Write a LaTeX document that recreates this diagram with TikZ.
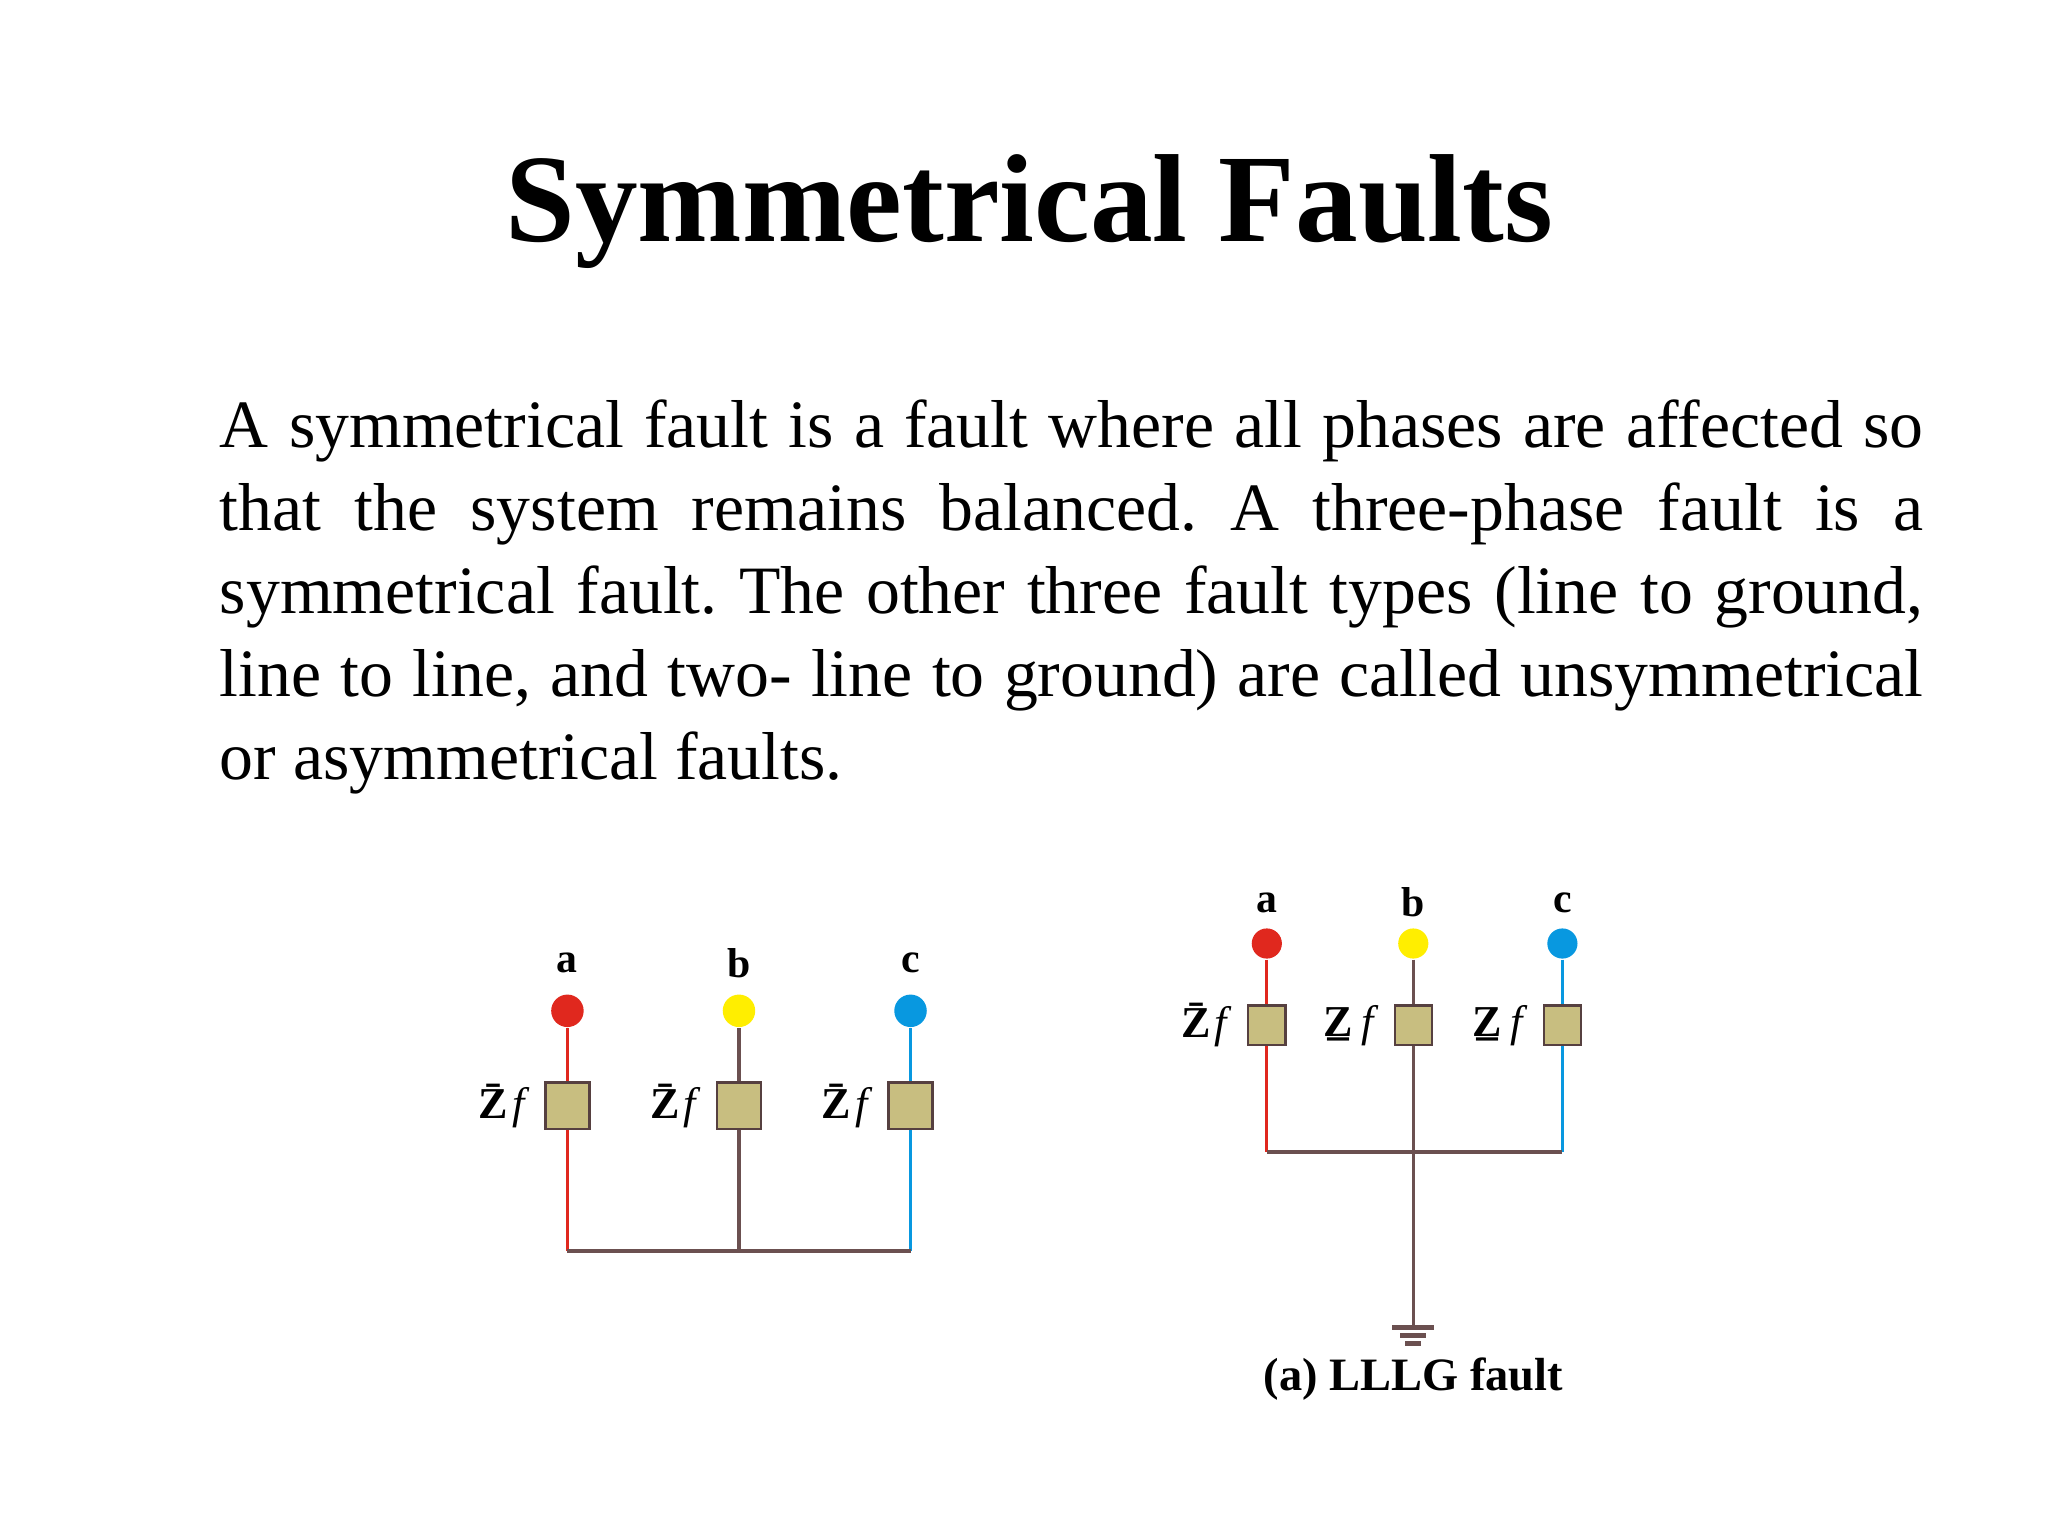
\documentclass[tikz,border=0pt]{standalone}
\usepackage{fontspec}
\setmainfont{Liberation Serif}
\usetikzlibrary{positioning,calc}
\definecolor{phA}{HTML}{E0281E}
\definecolor{phB}{HTML}{FFEE00}
\definecolor{phC}{HTML}{0898E0}
\definecolor{zbox}{HTML}{C8BE80}
\definecolor{wire}{HTML}{6B5050}
\newcommand{\zbar}{\textbf{\=Z}\kern-.6pt\textit{f}}
\newcommand{\zund}{\textbf{\b{Z}}\kern-.6pt\textit{f}}
\begin{document}
\begin{tikzpicture}[x=0.01cm,y=-0.01cm,
    Dot/.style = {circle, inner sep=0pt, minimum size=7pt},
    Imp/.style = {rectangle, draw=wire!80!black, fill=zbox, line width=.5pt,
      inner sep=0pt, minimum width=9.5pt, minimum height=10pt},
    Lbl/.style = {font=\fontsize{9}{10}\selectfont\bfseries},
    Zlbl/.style = {inner sep=0pt, font=\fontsize{9.5}{10}\selectfont},
    Wire/.style = {line width=.7pt}
  ]
  \useasboundingbox (0,0) rectangle (1552,1164);
  % title and text
  \node[font=\fontsize{27}{32}\selectfont\bfseries] (title) at (780,160) {Symmetrical Faults};
  \node[anchor=north west, inner sep=0pt, text width=12.9cm, align=justify,
        font=\fontsize{14.6}{17.9}\selectfont\frenchspacing] (body) at (166,302)
    {\hyphenpenalty=10000\relax A symmetrical fault is a fault where all phases are affected so\linebreak{} that the system remains balanced. A three-phase fault is a\linebreak{} symmetrical fault. The other three fault types (line to ground,\linebreak{} line to line, and two- line to ground) are called unsymmetrical\linebreak{} or asymmetrical faults.\par};
  % left diagram
  \foreach \n/\x/\c in {a/430/phA,b/560/phB,c/690/phC}{
    \node[Lbl] (L\n) at (\x,730) {\n};
    \node[Dot, fill=\c] (D\n) at (\x,766) {};
    \node[Imp] (Z\n) at (\x,838) {};
    \node[Zlbl, left=3pt of Z\n] (T\n) {\zbar};
    \coordinate (B\n) at (\x,948);
  }
  \draw[Wire, phA] (Da) -- (Za) -- (Ba);
  \draw[Wire, wire] (Db) -- (Zb) -- (Bb);
  \draw[Wire, phC] (Dc) -- (Zc) -- (Bc);
  \draw[Wire, wire] (Ba) -- (Bc);
  % right diagram
  \foreach \n/\x/\c in {a/960/phA,b/1071/phB,c/1184/phC}{
    \node[Lbl] (R\n) at (\x,684) {\n};
    \node[Dot, fill=\c, minimum size=6.5pt] (E\n) at (\x,715) {};
    \node[Imp, minimum width=8pt, minimum height=8.5pt] (Y\n) at (\x,777) {};
    \coordinate (C\n) at (\x,873);
  }
  \node[Zlbl, left=3pt of Ya] (Sa) {\zbar};
  \node[Zlbl, left=3pt of Yb] (Sb) {\zund};
  \node[Zlbl, left=3pt of Yc] (Sc) {\zund};
  \coordinate (G) at (1071,1006);
  \draw[Wire, phA] (Ea) -- (Ya) -- (Ca);
  \draw[Wire, wire] (Eb) -- (Yb) -- (G);
  \draw[Wire, phC] (Ec) -- (Yc) -- (Cc);
  \draw[Wire, wire] (Ca) -- (Cc);
  \draw[wire, line width=1.2pt] ($(G)+(-16,0)$) -- ($(G)+(16,0)$)
    ($(G)+(-10,6)$) -- ($(G)+(10,6)$) ($(G)+(-6,12)$) -- ($(G)+(6,12)$);
  \node[font=\fontsize{10}{12}\selectfont\bfseries] (cap) at (1071,1045) {(a) LLLG fault};
\end{tikzpicture}
\end{document}
